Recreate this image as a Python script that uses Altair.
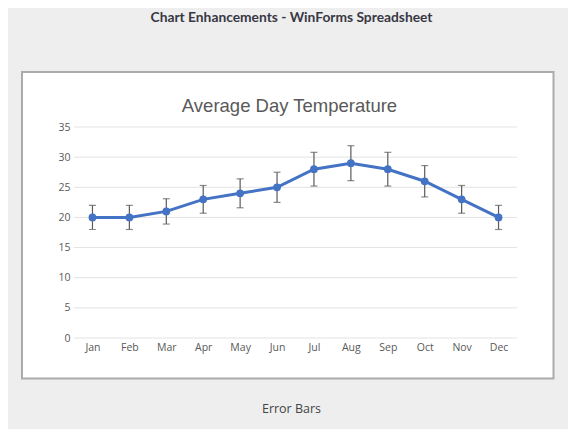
import altair as alt
import pandas as pd

months = ["Jan", "Feb", "Mar", "Apr", "May", "Jun", "Jul", "Aug", "Sep", "Oct", "Nov", "Dec"]
temps = [20, 20, 21, 23, 24, 25, 28, 29, 28, 26, 23, 20]
errors = [2.0, 2.0, 2.1, 2.3, 2.4, 2.5, 2.8, 2.9, 2.8, 2.6, 2.3, 2.0]
y_ticks = [0, 5, 10, 15, 20, 25, 30, 35]

page_title = "Chart Enhancements - WinForms Spreadsheet"
chart_title = "Average Day Temperature"
caption = "Error Bars"

df = pd.DataFrame({"month": months, "temp": temps, "err": errors})
df["low"] = df["temp"] - df["err"]
df["high"] = df["temp"] + df["err"]
grid_df = pd.DataFrame({"v": y_ticks})
one = pd.DataFrame({"k": [0]})

W, H = 443, 211
LABEL_FONT = "Open Sans"

xaxis = alt.Axis(domain=False, ticks=False, labelAngle=0, labelPadding=4,
                 labelFont=LABEL_FONT, labelFontSize=10.5, labelColor="#595959",
                 labelOverlap=False, zindex=1, grid=False)
xenc = alt.X("month:O", sort=months, title=None,
             scale=alt.Scale(type="point", padding=0.5), axis=xaxis)
yscale = alt.Scale(domain=[0, 35], nice=False)
yaxis = alt.Axis(values=y_ticks, domain=False, ticks=False, grid=False,
                 labelPadding=4, labelFont=LABEL_FONT, labelFontSize=10.5,
                 labelColor="#595959", labelOverlap=False, labelFlush=False, zindex=1)


def Y(field):
    return alt.Y(field, title=None, scale=yscale, axis=yaxis)


page_bg = alt.Chart(one).mark_rect(fill="#eeeeee").encode(
    x=alt.value(-66), x2=alt.value(494), y=alt.value(-119), y2=alt.value(302))

panel = alt.Chart(one).mark_rect(fill="white", stroke="#ababab", strokeWidth=2).encode(
    x=alt.value(-52), x2=alt.value(479.5), y=alt.value(-55), y2=alt.value(251.5))

t_page = alt.Chart(one).mark_text(
    font="Lato", fontWeight="bold",
    fontSize=13.8, color="#383844", align="center", baseline="alphabetic").encode(
    x=alt.value(217.5), y=alt.value(-105), text=alt.value(page_title))

t_chart = alt.Chart(one).mark_text(
    font="Liberation Sans, Arial, sans-serif", fontSize=18.5, color="#595959",
    align="center", baseline="alphabetic").encode(
    x=alt.value(215.5), y=alt.value(-15), text=alt.value(chart_title))

t_caption = alt.Chart(one).mark_text(
    font="Open Sans, sans-serif", fontSize=12.5, color="#444444",
    align="center", baseline="alphabetic").encode(
    x=alt.value(217.5), y=alt.value(286), text=alt.value(caption))

grid = alt.Chart(grid_df).mark_rule(color="#e3e3e3", strokeWidth=1).encode(y=Y("v:Q"))

base = alt.Chart(df)
err_rule = base.mark_rule(color="#5a5a5a", strokeWidth=1.2).encode(
    x=xenc, y=Y("low:Q"), y2="high:Q")
cap_lo = base.mark_tick(color="#5a5a5a", thickness=1.2, size=7).encode(x=xenc, y=Y("low:Q"))
cap_hi = base.mark_tick(color="#5a5a5a", thickness=1.2, size=7).encode(x=xenc, y=Y("high:Q"))
line = base.mark_line(color="#4472c4", strokeWidth=3).encode(x=xenc, y=Y("temp:Q"))
pts = base.mark_point(color="#4472c4", filled=True, opacity=1, size=60).encode(
    x=xenc, y=Y("temp:Q"))

chart = alt.layer(
    page_bg, panel, t_page, t_chart, t_caption, grid,
    err_rule, cap_lo, cap_hi, line, pts
).properties(
    width=W, height=H, padding=0, background="#eeeeee"
).configure_view(stroke=None)

chart.save("out.html", embed_options={"renderer": "svg", "actions": False})
